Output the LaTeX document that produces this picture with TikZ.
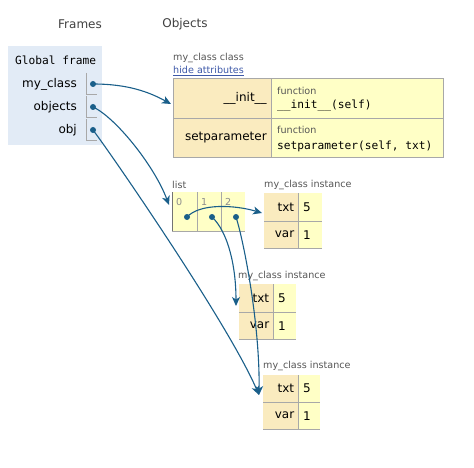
\documentclass[tikz,border=0pt]{standalone}
\usepackage{fontspec}
\setmainfont{DejaVu Sans}
\setmonofont{DejaVu Sans Mono}
\usetikzlibrary{arrows.meta}
\definecolor{frameblue}{HTML}{E2EBF6}
\definecolor{keyc}{HTML}{FAEBBF}
\definecolor{valc}{HTML}{FFFFC6}
\definecolor{arrowc}{HTML}{1A5F8A}
\definecolor{cellborder}{HTML}{A8A8A8}
\definecolor{labelgray}{HTML}{555555}
\definecolor{linkblue}{HTML}{3D58A8}
\begin{document}
\begin{tikzpicture}[x=1pt,y=-1pt,
  cellbox/.style={draw=cellborder, line width=0.9pt, inner sep=0pt, anchor=north west},
  keycell/.style={cellbox, fill=keyc},
  valcell/.style={cellbox, fill=valc},
  plain/.style={inner sep=0pt, anchor=north west},
  ikey/.style={plain, fill=keyc},
  ival/.style={plain, fill=valc},
  rule/.style={draw=cellborder, line width=0.9pt},
  heading/.style={font=\fontsize{12}{14}\selectfont, text=black!75},
  varname/.style={font=\fontsize{12}{14}\selectfont, inner sep=0pt, anchor=east},
  keytext/.style={font=\fontsize{12}{14}\selectfont, inner sep=0pt, anchor=east},
  valtext/.style={font=\fontsize{12}{14}\selectfont, inner sep=0pt, anchor=west},
  small/.style={font=\fontsize{9.6}{11}\selectfont, text=labelgray, inner sep=0pt, anchor=west},
  monotext/.style={font=\ttfamily\fontsize{11.2}{13}\selectfont, inner sep=0pt, anchor=west},
  ptrdot/.style={circle, fill=arrowc, inner sep=0pt, minimum size=6pt},
  ptr/.style={draw=arrowc, line width=1.1pt, -{Stealth[length=9pt,width=8pt,inset=2.5pt]}},
]
\useasboundingbox (0,0) rectangle (474,468);

% headings
\node[heading] (hframes) at (80,24) {Frames};
\node[heading] (hobjects) at (185,24) {Objects};

% global frame
\node[plain, fill=frameblue, minimum width=94pt, minimum height=99pt] (gf) at (8,46) {};
\node[monotext] (gft) at (15,60) {Global frame};
\node[varname] (n1) at (77,84) {my\_class};
\node[varname] (n2) at (77,107) {objects};
\node[varname] (n3) at (77,130) {obj};
\node[plain, minimum width=11pt, minimum height=21pt] (c1) at (86,73) {};
\node[plain, minimum width=11pt, minimum height=21pt] (c2) at (86,96) {};
\node[plain, minimum width=11pt, minimum height=21pt] (c3) at (86,119) {};
\foreach \c in {c1,c2,c3}{\draw[rule] (\c.north west) |- (\c.south east);}
\node[ptrdot] (d1) at (93,84) {};
\node[ptrdot] (d2) at (93,107) {};
\node[ptrdot] (d3) at (93,130) {};

% class object
\node[small] (clab) at (173,58) {my\_class class};
\node[small, text=linkblue] (hide) at (173,71) {\underline{hide attributes}};
\node[keycell, minimum width=98pt, minimum height=40pt] (k1) at (173,78) {};
\node[valcell, minimum width=172pt, minimum height=40pt] (v1) at (271,78) {};
\node[keycell, minimum width=98pt, minimum height=39pt] (k2) at (173,118) {};
\node[valcell, minimum width=172pt, minimum height=39pt] (v2) at (271,118) {};
\node[keytext] (k1t) at ([xshift=-5pt]k1.east) {\_\_init\_\_};
\node[keytext] (k2t) at ([xshift=-5pt]k2.east) {setparameter};
\node[small] (f1) at (277,91) {function};
\node[monotext] (s1) at (277,106) {\_\_init\_\_(self)};
\node[small] (f2) at (277,130) {function};
\node[monotext] (s2) at (277,146) {setparameter(self, txt)};

% list
\node[small] (llab) at (172,185) {list};
\node[plain, fill=valc, minimum width=25pt, minimum height=39pt] (l0) at (172,192) {};
\node[plain, fill=valc, minimum width=24pt, minimum height=39pt] (l1) at (197,192) {};
\node[plain, fill=valc, minimum width=24pt, minimum height=39pt] (l2) at (221,192) {};
\draw[rule] (l0.south west) -- (l2.south east);
\draw[black!55, line width=1pt] (l0.north west) -- (l0.south west);
\draw[rule] (l1.north west) -- (l1.south west);
\draw[rule] (l2.north west) -- (l2.south west);
\node[small, text=black!45] (i0) at (176,202) {0};
\node[small, text=black!45] (i1) at (201,202) {1};
\node[small, text=black!45] (i2) at (225,202) {2};
\node[ptrdot] (e0) at (187,217) {};
\node[ptrdot] (e1) at (212,217) {};
\node[ptrdot] (e2) at (236,217) {};

% instance 1
\node[small] (a1lab) at (264,185) {my\_class instance};
\node[ikey, minimum width=34pt, minimum height=28pt] (a1k1) at (264,193) {};
\node[ival, minimum width=24pt, minimum height=28pt] (a1v1) at (298,193) {};
\node[ikey, minimum width=34pt, minimum height=27pt] (a1k2) at (264,221) {};
\node[ival, minimum width=24pt, minimum height=27pt] (a1v2) at (298,221) {};
\draw[rule] (a1k1.south west) -- (a1v1.south east);
\draw[rule] (a1k2.south west) -- (a1v2.south east);
\draw[rule] (a1k1.north east) -- (a1k2.south east);
\node[keytext] at ([xshift=-4pt]a1k1.east) {txt};
\node[keytext] at ([xshift=-4pt]a1k2.east) {var};
\node[valtext] at ([xshift=5pt]a1v1.west) {5};
\node[valtext] at ([xshift=5pt]a1v2.west) {1};

% instance 2
\node[small] (a2lab) at (238,276) {my\_class instance};
\node[ikey, minimum width=34pt, minimum height=28pt] (a2k1) at (239,284) {};
\node[ival, minimum width=23pt, minimum height=28pt] (a2v1) at (273,284) {};
\node[ikey, minimum width=34pt, minimum height=27pt] (a2k2) at (239,312) {};
\node[ival, minimum width=23pt, minimum height=27pt] (a2v2) at (273,312) {};
\draw[rule] (a2k1.south west) -- (a2v1.south east);
\draw[rule] (a2k2.south west) -- (a2v2.south east);
\draw[rule] (a2k1.north east) -- (a2k2.south east);
\node[keytext] at ([xshift=-4pt]a2k1.east) {txt};
\node[keytext] at ([xshift=-4pt]a2k2.east) {var};
\node[valtext] at ([xshift=5pt]a2v1.west) {5};
\node[valtext] at ([xshift=5pt]a2v2.west) {1};

% instance 3
\node[small] (a3lab) at (263,366) {my\_class instance};
\node[ikey, minimum width=35pt, minimum height=27pt] (a3k1) at (263,375) {};
\node[ival, minimum width=22pt, minimum height=27pt] (a3v1) at (298,375) {};
\node[ikey, minimum width=35pt, minimum height=27pt] (a3k2) at (263,402) {};
\node[ival, minimum width=22pt, minimum height=27pt] (a3v2) at (298,402) {};
\draw[rule] (a3k1.south west) -- (a3v1.south east);
\draw[rule] (a3k2.south west) -- (a3v2.south east);
\draw[rule] (a3k1.north east) -- (a3k2.south east);
\node[keytext] at ([xshift=-4pt]a3k1.east) {txt};
\node[keytext] at ([xshift=-4pt]a3k2.east) {var};
\node[valtext] at ([xshift=5pt]a3v1.west) {5};
\node[valtext] at ([xshift=5pt]a3v2.west) {1};

% arrow targets
\coordinate (t1) at (171,104);
\coordinate (t2) at (169,205);
\coordinate (t3) at (259,395);
\coordinate (t4) at (262,213);
\coordinate (t5) at (236,306);
\coordinate (t6) at (259,395);

% pointers
\draw[ptr] (d1.center) .. controls +(35,0) and +(-22,-12) .. (t1);
\draw[ptr] (d2.center) .. controls +(22,10) and +(-15,-40) .. (t2);
\draw[ptr] (d3.center) .. controls +(19,25) and +(-30,-70) .. (t3);
\draw[ptr] (e0.center) .. controls +(13,-14) and +(-27,-8) .. (t4);
\draw[ptr] (e1.center) .. controls +(16,15) and +(0,-40) .. (t5);
\draw[ptr] (e2.center) .. controls +(8,25) and +(1,-70) .. (t6);
\end{tikzpicture}
\end{document}
